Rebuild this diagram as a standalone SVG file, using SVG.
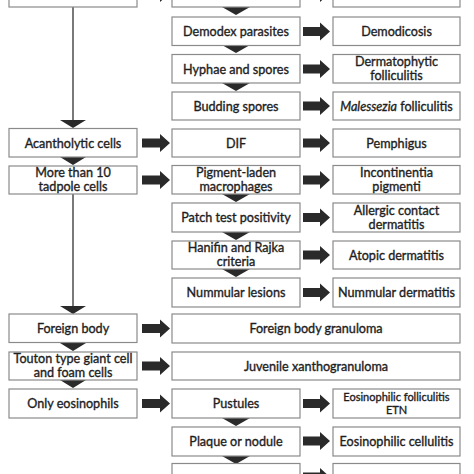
<svg xmlns="http://www.w3.org/2000/svg" width="474" height="474" viewBox="0 0 474 474">
<style>
.b{fill:#fff;stroke:#8a8a8a;stroke-width:1.2}
.t{font-family:Lato,"Liberation Sans",sans-serif;font-size:12.6px;fill:#1e1e1e;stroke:#1e1e1e;stroke-width:0.35;text-anchor:middle}
.s{font-size:11px}
.ar{fill:#2a2a2a}
.ln{stroke:#333;stroke-width:1.3;fill:none}
</style>
<defs>
<polygon id="ha" class="ar" points="0,-4.5 18,-4.5 18,-9 28,0 18,9 18,4.5 0,4.5"/>
<polygon id="hb" class="ar" points="0,-4.5 17,-4.5 17,-9 27,0 17,9 17,4.5 0,4.5"/>
<polygon id="dn" class="ar" points="-13,0 13,0 0,8"/>
<polygon id="dm" class="ar" points="-14,0 14,0 0,8"/>
</defs>
<rect width="474" height="474" fill="#fff"/>

<g id="connectors">
<path class="ln" d="M73,7V121M73,194V307"/>
<use href="#dn" x="73" y="120"/>
<use href="#dn" x="73" y="157"/>
<use href="#dn" x="73" y="306"/>
<use href="#dn" x="73" y="343"/>
<use href="#dn" x="73" y="380"/>
<use href="#dm" x="236" y="7"/>
<use href="#dm" x="236" y="45"/>
<use href="#dm" x="236" y="83"/>
<use href="#dm" x="236" y="194"/>
<use href="#dm" x="236" y="232"/>
<use href="#dm" x="236" y="269"/>
<use href="#dm" x="236" y="418"/>
<use href="#dm" x="236" y="456"/>
<use href="#ha" x="142" y="-7"/>
<use href="#ha" x="142" y="143"/>
<use href="#ha" x="142" y="180"/>
<use href="#ha" x="142" y="328.5"/>
<use href="#ha" x="142" y="366"/>
<use href="#ha" x="142" y="403.5"/>
<use href="#hb" x="303" y="-7"/>
<use href="#hb" x="303" y="31.5"/>
<use href="#hb" x="303" y="69"/>
<use href="#hb" x="303" y="106"/>
<use href="#hb" x="303" y="143"/>
<use href="#hb" x="303" y="180"/>
<use href="#hb" x="303" y="217.5"/>
<use href="#hb" x="303" y="255"/>
<use href="#hb" x="303" y="292.5"/>
<use href="#hb" x="303" y="403.5"/>
<use href="#hb" x="303" y="441"/>
<use href="#hb" x="303" y="477"/>
</g>

<g id="n_top_left"><rect class="b" x="9" y="-22" width="128" height="29"/></g>
<g id="n_top_mid"><rect class="b" x="172" y="-22" width="128" height="29"/></g>
<g id="n_top_right"><rect class="b" x="333" y="-22" width="127" height="29"/></g>

<g id="n_demodex"><rect class="b" x="172" y="17" width="128" height="28.5"/><text class="t" x="236" y="35.5">Demodex parasites</text></g>
<g id="n_demodicosis"><rect class="b" x="333" y="17" width="127" height="28.5"/><text class="t" x="396.5" y="35.5">Demodicosis</text></g>

<g id="n_hyphae"><rect class="b" x="172" y="54.5" width="128" height="28.5"/><text class="t" x="236" y="73.5">Hyphae and spores</text></g>
<g id="n_dermatophytic"><rect class="b" x="333" y="54.5" width="127" height="28.5"/><text class="t" x="396.5" y="65.5">Dermatophytic</text><text class="t" x="396.5" y="80">folliculitis</text></g>

<g id="n_budding"><rect class="b" x="172" y="92" width="128" height="28"/><text class="t" x="236" y="110.5">Budding spores</text></g>
<g id="n_malessezia"><rect class="b" x="333" y="92" width="127" height="28"/><text class="t" x="396.5" y="110.5"><tspan font-style="italic">Malessezia</tspan> folliculitis</text></g>

<g id="n_acantholytic"><rect class="b" x="9" y="128.5" width="128" height="28.5"/><text class="t" x="73" y="147.5">Acantholytic cells</text></g>
<g id="n_dif"><rect class="b" x="172" y="129" width="128" height="28"/><text class="t" x="236" y="147.5">DIF</text></g>
<g id="n_pemphigus"><rect class="b" x="333" y="129" width="127" height="28"/><text class="t" x="396.5" y="147.5">Pemphigus</text></g>

<g id="n_tadpole"><rect class="b" x="9" y="166" width="128" height="28"/><text class="t" x="73" y="177">More than 10</text><text class="t" x="73" y="191">tadpole cells</text></g>
<g id="n_pigment"><rect class="b" x="172" y="165.5" width="128" height="28.5"/><text class="t" x="236" y="177">Pigment-laden</text><text class="t" x="236" y="191">macrophages</text></g>
<g id="n_incontinentia"><rect class="b" x="333" y="165.5" width="127" height="28.5"/><text class="t" x="396.5" y="177">Incontinentia</text><text class="t" x="396.5" y="191">pigmenti</text></g>

<g id="n_patch"><rect class="b" x="172" y="203" width="128" height="29"/><text class="t" x="236" y="222">Patch test positivity</text></g>
<g id="n_allergic"><rect class="b" x="333" y="203" width="127" height="29"/><text class="t" x="396.5" y="214.5">Allergic contact</text><text class="t" x="396.5" y="228.5">dermatitis</text></g>

<g id="n_hanifin"><rect class="b" x="172" y="241" width="128" height="28"/><text class="t" x="236" y="252">Hanifin and Rajka</text><text class="t" x="236" y="266">criteria</text></g>
<g id="n_atopic"><rect class="b" x="333" y="241" width="127" height="28"/><text class="t" x="396.5" y="259.5">Atopic dermatitis</text></g>

<g id="n_nummular"><rect class="b" x="172" y="278" width="128" height="29"/><text class="t" x="236" y="297">Nummular lesions</text></g>
<g id="n_nummular_derm"><rect class="b" x="333" y="278" width="127" height="29"/><text class="t" x="396.5" y="297">Nummular dermatitis</text></g>

<g id="n_foreign"><rect class="b" x="9" y="314" width="128" height="28.5"/><text class="t" x="73" y="333">Foreign body</text></g>
<g id="n_fbg"><rect class="b" x="172" y="314" width="288" height="29"/><text class="t" x="316" y="333">Foreign body granuloma</text></g>

<g id="n_touton"><rect class="b" x="9" y="352" width="128" height="28"/><text class="t" x="73" y="363">Touton type giant cell</text><text class="t" x="73" y="377">and foam cells</text></g>
<g id="n_jxg"><rect class="b" x="172" y="352" width="288" height="28"/><text class="t" x="316" y="370.5">Juvenile xanthogranuloma</text></g>

<g id="n_eos"><rect class="b" x="9" y="389" width="128" height="29"/><text class="t" x="73" y="408">Only eosinophils</text></g>
<g id="n_pustules"><rect class="b" x="172" y="389" width="128" height="29"/><text class="t" x="236" y="408">Pustules</text></g>
<g id="n_eos_foll"><rect class="b" x="333" y="389" width="127" height="29"/><text class="t s" x="396.5" y="400.5">Eosinophilic folliculitis</text><text class="t s" x="396.5" y="414">ETN</text></g>

<g id="n_plaque"><rect class="b" x="172" y="427" width="128" height="29"/><text class="t" x="236" y="446">Plaque or nodule</text></g>
<g id="n_eos_cell"><rect class="b" x="333" y="427" width="127" height="29"/><text class="t" x="396.5" y="446">Eosinophilic cellulitis</text></g>

<g id="n_bottom_mid"><rect class="b" x="172" y="463.5" width="128" height="29"/></g>
<g id="n_bottom_right"><rect class="b" x="333" y="463.5" width="127" height="29"/></g>
</svg>
